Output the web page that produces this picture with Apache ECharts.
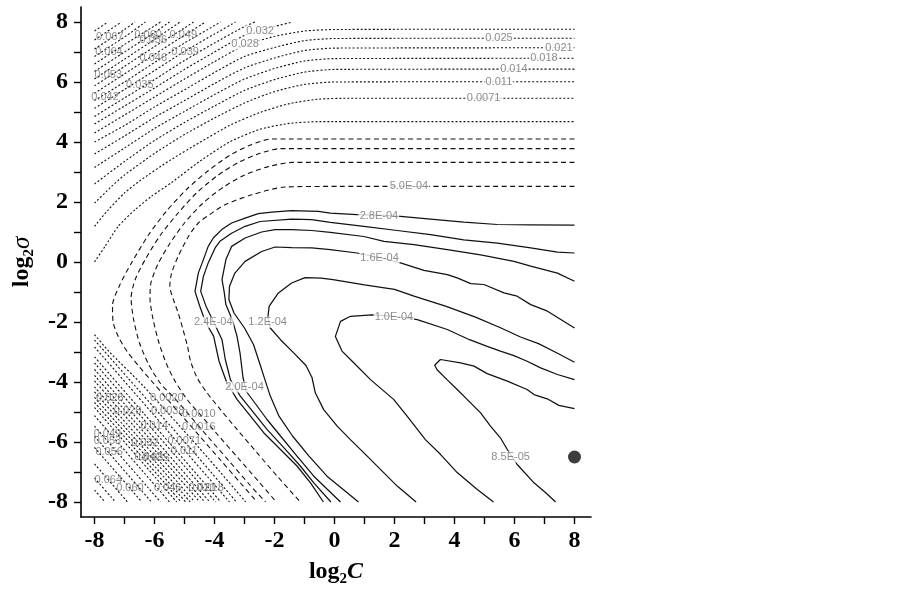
<!DOCTYPE html>
<html>
<head>
<meta charset="utf-8">
<script src="https://cdn.jsdelivr.net/npm/echarts@6/dist/echarts.min.js"></script>
<style>
  html, body { margin: 0; padding: 0; background: #fff; }
  #chart { width: 903px; height: 590px; }
</style>
</head>
<body>
<div id="chart"></div>
<script>
// tick positions (log2 C / log2 sigma)
const tickLabels = [-8, -6, -4, -2, 0, 2, 4, 6, 8]
const tickMarks = [-8, -7, -6, -5, -4, -3, -2, -1, 0, 1, 2, 3, 4, 5, 6, 7, 8]

// solid contours
const c085 = [[8,-4.89],[7.48,-4.78],[7.09,-4.56],[6.65,-4.42],[6.42,-4.25],[5.76,-3.97],[5.09,-3.72],[4.65,-3.47],[4.2,-3.36],[3.53,-3.25],[3.34,-3.44],[3.42,-3.59],[3.75,-3.92],[4.09,-4.25],[4.42,-4.58],[4.87,-5.03],[5.2,-5.47],[5.53,-5.86],[5.76,-6.25],[6.09,-6.75],[6.65,-7.36],[7.04,-7.69],[7.37,-8]]
const c100 = [[8,-3.92],[7.43,-3.75],[6.87,-3.53],[6.42,-3.31],[5.98,-3.12],[5.53,-2.97],[5.09,-2.81],[4.5,-2.59],[3.76,-2.25],[2.76,-1.92],[1.9,-1.8],[1.25,-1.76],[0.53,-1.81],[0.2,-1.98],[0.03,-2.48],[0.25,-2.97],[0.64,-3.36],[1.2,-3.92],[1.97,-4.58],[2.42,-5.14],[3.03,-5.92],[3.53,-6.41],[4.09,-7.02],[4.76,-7.58],[5.3,-8]]
const c120 = [[8,-3.34],[7.45,-3.05],[6.8,-2.72],[6.2,-2.5],[5.55,-2.2],[4.7,-1.84],[3.7,-1.47],[2.65,-1.14],[2,-0.91],[1,-0.76],[-0.05,-0.59],[-0.45,-0.54],[-0.98,-0.52],[-1.43,-0.7],[-1.87,-1.03],[-2.18,-1.48],[-2.22,-1.85],[-2.14,-2.2],[-1.8,-2.59],[-1.36,-3.03],[-0.95,-3.45],[-0.75,-3.85],[-0.64,-4.36],[-0.36,-4.92],[0.09,-5.47],[0.53,-5.92],[1.09,-6.47],[1.64,-7.02],[2.09,-7.47],[2.72,-8]]
const c160 = [[8,-2.2],[7.1,-1.64],[6.54,-1.42],[6.09,-1.14],[5.65,-1.03],[4.98,-0.75],[4.54,-0.72],[4.09,-0.53],[3.76,-0.42],[2.98,-0.28],[2.2,-0.03],[1.5,0.15],[0.75,0.3],[-0.14,0.41],[-0.76,0.47],[-1.43,0.48],[-1.98,0.5],[-2.43,0.35],[-2.98,0.02],[-3.32,-0.37],[-3.5,-0.81],[-3.52,-1.25],[-3.35,-1.7],[-3,-2.2],[-2.7,-2.75],[-2.5,-3.36],[-2.32,-3.92],[-2.14,-4.47],[-1.85,-5.14],[-1.4,-5.8],[-0.85,-6.47],[-0.25,-7.14],[0.8,-8]]
const c200 = [[8,-0.64],[7.43,-0.37],[6.54,-0.14],[5.98,0.02],[4.87,0.24],[3.76,0.41],[2.65,0.58],[1.65,0.69],[0.98,0.85],[-0.14,0.99],[-0.76,1.05],[-1.43,1.08],[-1.98,1.08],[-2.43,1],[-2.98,0.8],[-3.43,0.52],[-3.62,0.08],[-3.75,-0.59],[-3.68,-0.98],[-3.62,-1.42],[-3.4,-1.95],[-3.25,-2.47],[-3.15,-3.03],[-3.05,-3.85],[-2.95,-4.3],[-2.58,-4.8],[-2.25,-5.25],[-1.8,-5.8],[-1.25,-6.47],[-0.69,-7.14],[0.2,-8]]
const c240 = [[8,0.3],[7.43,0.33],[6.54,0.47],[5.43,0.63],[4.31,0.74],[3.2,0.91],[2.09,1.05],[0.98,1.19],[-0.14,1.32],[-0.76,1.41],[-1.43,1.43],[-2.48,1.35],[-2.98,1.19],[-3.43,0.96],[-3.82,0.69],[-3.98,0.47],[-4.21,-0.03],[-4.37,-0.48],[-4.46,-0.98],[-4.28,-1.48],[-3.98,-2.1],[-3.75,-2.59],[-3.64,-3.25],[-3.47,-3.92],[-3.14,-4.47],[-2.69,-5.03],[-2.25,-5.58],[-1.69,-6.19],[-1.14,-6.8],[-0.69,-7.36],[-0.12,-8]]
const c280 = [[8,1.23],[6.54,1.24],[5.43,1.25],[4.31,1.33],[3.2,1.43],[2.2,1.52],[1.45,1.56],[0.75,1.58],[-0.14,1.63],[-0.54,1.69],[-1.43,1.71],[-2.09,1.66],[-2.54,1.61],[-2.98,1.46],[-3.43,1.3],[-3.76,1.08],[-4.04,0.8],[-4.21,0.52],[-4.37,0.08],[-4.54,-0.37],[-4.65,-0.98],[-4.5,-1.45],[-4.3,-2],[-4.03,-2.47],[-3.85,-3.3],[-3.6,-4],[-3.25,-4.58],[-2.8,-5.14],[-2.36,-5.69],[-1.8,-6.25],[-1.25,-6.8],[-0.8,-7.36],[-0.37,-8]]

// dashed contours (5.0E-04 .. 0.0020)
const d050 = [[8,2.52],[0.13,2.52],[-1.65,2.5],[-2.76,2.24],[-3.65,1.91],[-4.09,1.63],[-4.54,1.3],[-4.87,0.85],[-5.21,0.19],[-5.43,-0.37],[-5.49,-0.81],[-5.37,-1.25],[-5.21,-1.7],[-5.05,-2.25],[-4.9,-2.81],[-4.8,-3.3],[-4.58,-3.86],[-4.25,-4.36],[-3.8,-4.92],[-3.25,-5.58],[-2.58,-6.36],[-1.91,-7.14],[-1.14,-8]]
const d100 = [[8,3.32],[-1.4,3.32],[-2.2,3.18],[-3,2.9],[-3.7,2.5],[-4.4,1.95],[-5,1.3],[-5.5,0.6],[-5.9,-0.1],[-6.12,-0.7],[-6.15,-1.2],[-6.05,-1.9],[-5.85,-2.7],[-5.6,-3.4],[-5.3,-4],[-4.9,-4.6],[-4.48,-5.08],[-3.9,-5.75],[-3.2,-6.55],[-2.5,-7.35],[-1.94,-8]]
const d160 = [[8,3.78],[-1.8,3.78],[-2.5,3.62],[-3.2,3.32],[-3.9,2.88],[-4.6,2.3],[-5.2,1.65],[-5.8,0.9],[-6.3,0.1],[-6.65,-0.6],[-6.78,-1.2],[-6.7,-1.9],[-6.5,-2.7],[-6.2,-3.4],[-5.8,-4.05],[-5.34,-4.53],[-4.86,-5.08],[-4.2,-5.85],[-3.5,-6.65],[-2.85,-7.4],[-2.3,-8]]
const d200 = [[8,4.1],[-2.1,4.1],[-2.8,3.9],[-3.5,3.55],[-4.2,3.05],[-4.9,2.45],[-5.6,1.7],[-6.2,0.9],[-6.75,0],[-7.15,-0.75],[-7.4,-1.45],[-7.38,-2],[-7.2,-2.5],[-6.9,-3],[-6.5,-3.5],[-6.07,-4],[-5.61,-4.53],[-5.13,-5.08],[-4.5,-5.8],[-3.8,-6.6],[-3.15,-7.35],[-2.58,-8]]

// dotted contours, upper-left pieces
const u0038 = [[-8,0],[-7.65,0.52],[-7.21,1.19],[-6.65,1.74],[-6.1,2.19],[-5.43,2.65],[-4.5,3.35],[-3.5,4],[-2.5,4.42],[-1.5,4.62],[-0.5,4.68],[8,4.68]]
const u0071 = [[-8,1.19],[-7.54,1.74],[-7,2.3],[-6.5,2.7],[-5.5,3.38],[-4.5,3.98],[-3.5,4.55],[-2.5,4.98],[-1.5,5.28],[-0.5,5.43],[0.5,5.46],[8,5.46]]
const u011 = [[-8,1.96],[-7.43,2.52],[-7,2.9],[-6,3.62],[-5,4.25],[-4,4.8],[-3,5.3],[-2,5.68],[-1,5.92],[0,6],[8,6.01]]
const u014 = [[-8,2.6],[-7,3.35],[-6,4.05],[-5,4.65],[-4,5.2],[-3,5.72],[-2,6.08],[-1,6.33],[0,6.42],[8,6.43]]
const u018 = [[-8,3.15],[-7,3.8],[-6,4.45],[-5,5.02],[-4,5.58],[-3,6.1],[-2,6.45],[-1,6.7],[0,6.78],[8,6.79]]
const u021 = [[-8,3.6],[-7,4.2],[-6,4.82],[-5,5.38],[-4,5.95],[-3,6.47],[-2,6.8],[-1,7.05],[0,7.13],[8,7.14]]
const u025 = [[-8,4],[-7,4.55],[-6,5.17],[-5,5.74],[-4,6.32],[-3,6.85],[-2,7.15],[-1,7.38],[0,7.45],[8,7.46]]
const u028 = [[-8,4.3],[-7,4.9],[-6,5.5],[-5,6.1],[-4,6.68],[-3,7.22],[-2,7.52],[-1,7.7],[0,7.75],[8,7.76]]
const u032 = [[-8,4.6],[-7,5.2],[-6,5.8],[-5,6.42],[-4,7],[-3,7.55],[-2,7.85],[-1.4,8]]
const u035 = [[-8,4.85],[-7,5.47],[-6,6.08],[-5,6.72],[-4,7.3],[-3,7.85],[-2.65,8]]
const u039 = [[-8,5.12],[-7,5.75],[-6,6.38],[-5,7.02],[-4,7.6],[-3.3,8]]
const u042 = [[-8,5.38],[-7,6],[-6,6.65],[-5,7.3],[-4,7.88],[-3.8,8]]
const u046 = [[-8,5.62],[-7,6.27],[-6,6.92],[-5,7.56],[-4.3,8]]
const u049 = [[-8,5.87],[-7,6.52],[-6,7.18],[-5,7.8],[-4.7,8]]
const u053 = [[-8,6.1],[-7,6.76],[-6,7.42],[-5.15,8]]
const u056 = [[-8,6.35],[-7,7],[-6,7.65],[-5.5,8]]
const u060 = [[-8,6.6],[-7,7.25],[-6,7.87],[-5.8,8]]
const u064 = [[-8,6.85],[-7,7.5],[-6.3,8]]
const u067 = [[-8,7.1],[-7,7.75],[-6.65,8]]
const u071 = [[-8,7.4],[-7.1,8]]
const u074 = [[-8,7.7],[-7.55,8]]

// dotted contours, lower-left pieces
const lo0038 = [[-8,-2.42],[-7.5,-3],[-6.5,-4],[-5.51,-5.08],[-4.2,-6.55],[-2.96,-8]]
const lo0071 = [[-8,-2.6],[-6.9,-3.85],[-5.81,-5.08],[-4.55,-6.5],[-3.27,-8]]
const lo011 = [[-8,-2.83],[-6.04,-5.08],[-3.5,-8]]
const lo014 = [[-8,-3.16],[-6.33,-5.08],[-3.79,-8]]
const lo018 = [[-8,-3.36],[-3.96,-8]]
const lo021 = [[-8,-3.58],[-4.16,-8]]
const lo025 = [[-8,-3.78],[-4.33,-8]]
const lo028 = [[-8,-3.96],[-4.49,-8]]
const lo032 = [[-8,-4.16],[-4.66,-8]]
const lo035 = [[-8,-4.33],[-4.81,-8]]
const lo039 = [[-8,-4.51],[-4.96,-8]]
const lo042 = [[-8,-4.68],[-5.11,-8]]
const lo046 = [[-8,-4.85],[-5.26,-8]]
const lo049 = [[-8,-5.12],[-5.5,-8]]
const lo053 = [[-8,-5.47],[-5.8,-8]]
const lo056 = [[-8,-5.81],[-6.1,-8]]
const lo060 = [[-8,-6.18],[-6.42,-8]]
const lo064 = [[-8,-6.73],[-6.9,-8]]
const lo067 = [[-8,-7.2],[-7.3,-8]]
const lo071 = [[-8,-7.6],[-7.65,-8]]

// contour labels [x, y, text]
const boxedLabels = [
  [1.48, 1.55, '2.8E-04'], [1.5, 0.15, '1.6E-04'], [1.98, -1.83, '1.0E-04'],
  [5.87, -6.5, '8.5E-05'], [-4.04, -2.01, '2.4E-04'], [-2.23, -2.01, '1.2E-04'],
  [-3.0, -4.17, '2.0E-04'], [2.48, 2.52, '5.0E-04'],
  [5.48, 7.46, '0.025'], [7.48, 7.14, '0.021'], [6.98, 6.79, '0.018'],
  [5.98, 6.43, '0.014'], [5.48, 6.01, '0.011'], [4.97, 5.46, '0.0071'],
  [-2.48, 7.71, '0.032'], [-2.98, 7.26, '0.028']
]
const denseLabels = [
  [-7.49, 7.49, '0.067'], [-6.21, 7.57, '0.060'], [-6.04, 7.4, '0.056'], [-5.04, 7.57, '0.049'],
  [-7.52, 7.01, '0.064'], [-6.04, 6.79, '0.046'], [-4.98, 7.01, '0.039'], [-7.54, 6.24, '0.053'],
  [-6.49, 5.9, '0.035'], [-7.65, 5.51, '0.042'],
  [-7.49, -4.53, '0.028'], [-5.59, -4.53, '0.0020'], [-6.9, -4.97, '0.028'], [-5.56, -4.97, '0.0038'],
  [-4.52, -5.08, '0.0010'], [-6.01, -5.47, '0.014'], [-4.52, -5.49, '0.0016'], [-7.57, -5.72, '0.049'],
  [-7.57, -5.97, '0.053'], [-6.32, -6.03, '0.032'], [-5.01, -5.97, '0.0071'], [-7.51, -6.34, '0.056'],
  [-6.21, -6.49, '0.042'], [-5.96, -6.53, '0.035'], [-5.01, -6.3, '0.011'], [-7.54, -7.25, '0.064'],
  [-6.82, -7.52, '0.060'], [-5.56, -7.52, '0.046'], [-4.41, -7.52, '0.021'], [-4.15, -7.52, '0.018']
]
const optimumPoint = [[8, -6.5]]

const solidContours = [c085, c100, c120, c160, c200, c240, c280]
const dashedContours = [d050, d100, d160, d200]
const upperContours = [u0038, u0071, u011, u014, u018, u021, u025, u028, u032, u035, u039, u042,
  u046, u049, u053, u056, u060, u064, u067, u071, u074]
const lowerContours = [lo0038, lo0071, lo011, lo014, lo018, lo021, lo025, lo028, lo032, lo035,
  lo039, lo042, lo046, lo049, lo053, lo056, lo060, lo064, lo067, lo071]

const serif = 'Liberation Serif'
const lineColor = '#111'

function contour(data, dash, width, smooth) {
  return {
    type: 'line',
    data: data,
    symbol: 'none',
    smooth: smooth,
    silent: true,
    z: 2,
    lineStyle: { color: lineColor, width: width, type: dash }
  }
}

function labelSeries(data, boxed) {
  return {
    type: 'scatter',
    data: data,
    symbolSize: 1,
    silent: true,
    z: 4,
    itemStyle: { color: 'rgba(0,0,0,0)' },
    label: {
      show: true,
      position: 'inside',
      formatter: p => p.value[2],
      fontFamily: 'Liberation Sans',
      fontSize: 11,
      color: '#707070',
      backgroundColor: boxed ? '#fff' : 'transparent',
      padding: boxed ? [0, 1] : 0
    }
  }
}

const nameRich = {
  a: { fontFamily: serif, fontWeight: 'bold', fontSize: 24, lineHeight: 30, color: '#000' },
  b: { fontFamily: serif, fontWeight: 'bold', fontSize: 15, lineHeight: 13, verticalAlign: 'bottom', color: '#000' },
  c: { fontFamily: serif, fontWeight: 'bold', fontStyle: 'italic', fontSize: 24, lineHeight: 30, color: '#000' },
  s: { fontFamily: serif, fontStyle: 'italic', fontSize: 25, lineHeight: 30, color: '#000' }
}

function axisCommon() {
  return {
    type: 'value',
    splitLine: { show: false },
    axisLine: { onZero: false, lineStyle: { color: '#000', width: 1.6 } },
    axisTick: { show: true, length: 7, customValues: tickMarks, lineStyle: { color: '#000', width: 1.4 } },
    axisLabel: {
      customValues: tickLabels,
      fontFamily: serif,
      fontWeight: 'bold',
      fontSize: 24,
      color: '#000'
    },
    nameLocation: 'middle',
    nameTextStyle: { rich: nameRich }
  }
}

const xAxis = axisCommon()
xAxis.min = -8.45
xAxis.max = 8.55
xAxis.axisLabel.margin = 12
xAxis.name = '{a|log}{b|2}{c|C}'
xAxis.nameGap = 40

const yAxis = axisCommon()
yAxis.min = -8.5
yAxis.max = 8.5
yAxis.axisLabel.margin = 13
yAxis.name = '{a|log}{b|2}{s|σ}'
yAxis.nameGap = 43

const series = []
solidContours.forEach(d => series.push(contour(d, 'solid', 1.25, false)))
dashedContours.forEach(d => series.push(contour(d, [5, 3.5], 1.1, 0.25)))
upperContours.forEach(d => series.push(contour(d, [2, 2], 1.1, 0.2)))
lowerContours.forEach(d => series.push(contour(d, [2, 2], 1.1, 0.2)))
series.push({
  type: 'scatter',
  data: optimumPoint,
  symbolSize: 13,
  z: 5,
  itemStyle: { color: '#0d0d0d' }
})
series.push(labelSeries(boxedLabels, true))
series.push(labelSeries(denseLabels, false))

const chart = echarts.init(document.getElementById('chart'))
chart.setOption({
  animation: false,
  backgroundColor: '#fff',
  grid: { left: 81, top: 7, width: 510, height: 510, outerBoundsMode: 'none' },
  xAxis: xAxis,
  yAxis: yAxis,
  series: series
})

window.addEventListener('resize', () => chart.resize())
</script>
</body>
</html>
